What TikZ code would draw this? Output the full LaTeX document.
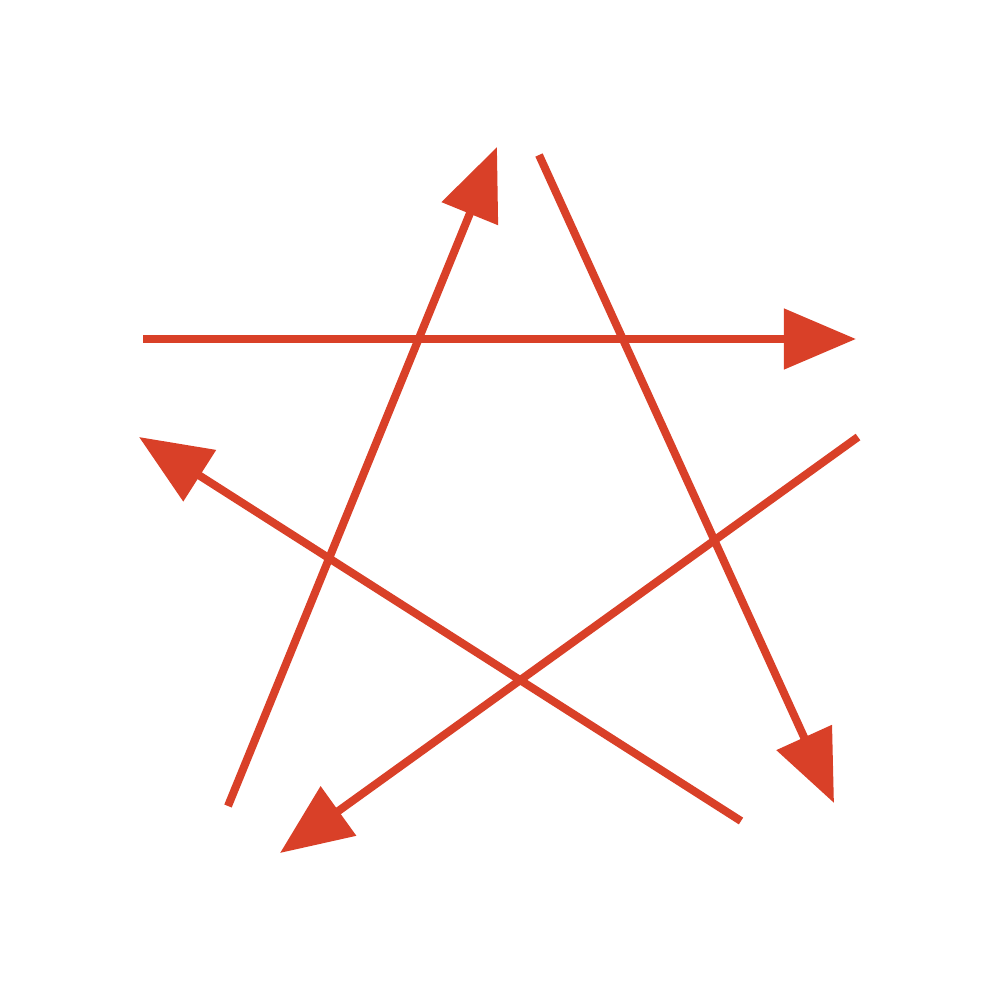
\documentclass[tikz,border=0pt]{standalone}
\usetikzlibrary{arrows.meta}
\definecolor{starred}{RGB}{217,64,40}
\tikzset{
  stararrow/.style={draw=starred, line width=0.08cm, line cap=butt,
    -{Triangle[length=0.72cm, width=0.59cm]}}
}
\begin{document}
\begin{tikzpicture}[x=0.01cm,y=-0.01cm]
\useasboundingbox[fill=white] (0,0) rectangle (1000,1000);
\coordinate (a1s) at (228,806);
\coordinate (a1e) at (497,147);
\coordinate (a2s) at (539,155);
\coordinate (a2e) at (834,803);
\coordinate (a3s) at (143,339);
\coordinate (a3e) at (856,339);
\coordinate (a4s) at (858,437);
\coordinate (a4e) at (280,853);
\coordinate (a5s) at (741,821);
\coordinate (a5e) at (139,437);
\draw[stararrow] (a1s) -- (a1e);
\draw[stararrow] (a2s) -- (a2e);
\draw[stararrow] (a3s) -- (a3e);
\draw[stararrow] (a4s) -- (a4e);
\draw[stararrow] (a5s) -- (a5e);
\end{tikzpicture}
\end{document}
